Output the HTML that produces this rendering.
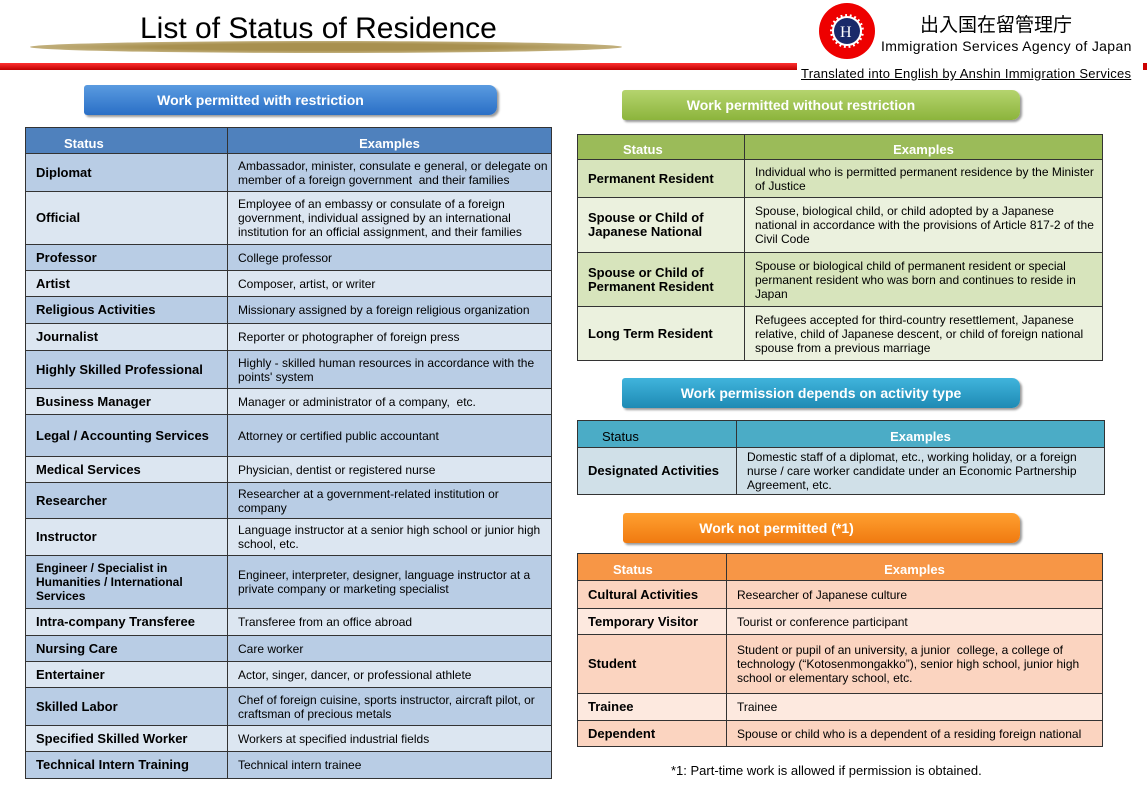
<!DOCTYPE html>
<html><head><meta charset="utf-8"><style>
*{margin:0;padding:0;box-sizing:border-box}
body{width:1147px;height:801px;background:#fff;position:relative;overflow:hidden;font-family:"Liberation Sans","Noto Sans CJK JP",sans-serif;color:#000}
.a{position:absolute}
table{position:absolute;border-collapse:collapse;font-size:12px}
td{border:1px solid #333;padding:0 6px 0 10px;line-height:14px}
td.s{font-weight:bold;font-size:13px}
th{border:1px solid #333;color:#fff;font-size:13px;font-weight:bold;padding-top:5px}
.ban{position:absolute;color:#fff;font-weight:bold;font-size:14px;border-radius:3px 8px 8px 3px;box-shadow:2px 2px 2px #999;display:flex;align-items:center;justify-content:center}
</style></head><body>
<div class="a" style="left:30px;top:41px;width:592px;height:12px;border-radius:50%;background:radial-gradient(ellipse,#a8904f 40%,#c9b98a 80%,#fff 100%)"></div>
<div class="a" style="left:140px;top:12px;font-size:30px">List of Status of Residence</div>
<div class="a" style="left:0;top:63px;width:797px;height:7px;background:linear-gradient(#ff3030,#c00000)"></div>
<div class="a" style="left:1143px;top:63px;width:4px;height:7px;background:#c00"></div>
<svg class="a" style="left:818px;top:2px" width="60" height="58"><circle cx="29" cy="29" r="28" fill="#e00" /><circle cx="29" cy="29" r="17" fill="#fff" stroke="#e00" stroke-width="4" stroke-dasharray="3 2"/><circle cx="29" cy="29" r="13" fill="#1a2a6a"/><text x="22" y="35" fill="#fff" font-size="16" font-family="Liberation Serif">H</text></svg>
<div class="a" style="left:920px;top:10px;font-size:19px;font-family:'Noto Sans CJK JP',sans-serif">出入国在留管理庁</div>
<div class="a" style="left:881px;top:38px;font-size:14px;letter-spacing:0.35px">Immigration Services Agency of Japan</div>
<div class="a" style="left:801px;top:66px;font-size:13px;text-decoration:underline;letter-spacing:0.25px">Translated into English by Anshin Immigration Services</div>

<div class="ban" style="left:84px;top:85px;width:413px;height:30px;background:linear-gradient(#5a9be0,#2a6fc6)"><span style="margin-left:-60px">Work permitted with restriction</span></div>
<div class="ban" style="left:622px;top:90px;width:398px;height:30px;background:linear-gradient(#b5d46e,#8cb43c)"><span style="margin-left:-40px">Work permitted without restriction</span></div>
<div class="ban" style="left:622px;top:378px;width:398px;height:30px;background:linear-gradient(#40b4dc,#1e8ab4)">Work permission depends on activity type</div>
<div class="ban" style="left:623px;top:513px;width:397px;height:30px;background:linear-gradient(#ffa030,#f07a10)"><span style="margin-left:-90px">Work not permitted (*1)</span></div>

<table style="left:25px;top:127px;width:527px">
<tr style="height:26px;background:#4f81bd"><th style="width:202px;text-align:left;padding-left:38px">Status</th><th>Examples</th></tr>
<tr style="height:38px;background:#b9cde5"><td class="s">Diplomat</td><td style="padding-right:0">Ambassador, minister, consulate e general, or delegate on member of a foreign government&nbsp; and their families</td></tr>
<tr style="height:53px;background:#dce6f1"><td class="s">Official</td><td>Employee of an embassy or consulate of a foreign government, individual assigned by an international institution for an official assignment, and their families</td></tr>
<tr style="height:26px;background:#b9cde5"><td class="s">Professor</td><td>College professor</td></tr>
<tr style="height:26px;background:#dce6f1"><td class="s">Artist</td><td>Composer, artist, or writer</td></tr>
<tr style="height:27px;background:#b9cde5"><td class="s">Religious Activities</td><td>Missionary assigned by a foreign religious organization</td></tr>
<tr style="height:27px;background:#dce6f1"><td class="s">Journalist</td><td>Reporter or photographer of foreign press</td></tr>
<tr style="height:38px;background:#b9cde5"><td class="s">Highly Skilled Professional</td><td>Highly - skilled human resources in accordance with the points' system</td></tr>
<tr style="height:26px;background:#dce6f1"><td class="s">Business Manager</td><td>Manager or administrator of a company,&nbsp; etc.</td></tr>
<tr style="height:42px;background:#b9cde5"><td class="s">Legal / Accounting Services</td><td>Attorney or certified public accountant</td></tr>
<tr style="height:26px;background:#dce6f1"><td class="s">Medical Services</td><td>Physician, dentist or registered nurse</td></tr>
<tr style="height:36px;background:#b9cde5"><td class="s">Researcher</td><td>Researcher at a government-related institution or company</td></tr>
<tr style="height:37px;background:#dce6f1"><td class="s">Instructor</td><td>Language instructor at a senior high school or junior high school, etc.</td></tr>
<tr style="height:53px;background:#b9cde5"><td class="s" style="font-size:12px">Engineer / Specialist in Humanities / International Services</td><td>Engineer, interpreter, designer, language instructor at a private company or marketing specialist</td></tr>
<tr style="height:27px;background:#dce6f1"><td class="s">Intra-company Transferee</td><td>Transferee from an office abroad</td></tr>
<tr style="height:26px;background:#b9cde5"><td class="s">Nursing Care</td><td>Care worker</td></tr>
<tr style="height:26px;background:#dce6f1"><td class="s">Entertainer</td><td>Actor, singer, dancer, or professional athlete</td></tr>
<tr style="height:38px;background:#b9cde5"><td class="s">Skilled Labor</td><td>Chef of foreign cuisine, sports instructor, aircraft pilot, or craftsman of precious metals</td></tr>
<tr style="height:26px;background:#dce6f1"><td class="s">Specified Skilled Worker</td><td>Workers at specified industrial fields</td></tr>
<tr style="height:27px;background:#b9cde5"><td class="s">Technical Intern Training</td><td>Technical intern trainee</td></tr>
</table>

<table style="left:577px;top:134px;width:526px">
<tr style="height:25px;background:#9bbb59"><th style="width:167px;text-align:left;padding-left:45px">Status</th><th>Examples</th></tr>
<tr style="height:38px;background:#d7e4bc"><td class="s">Permanent Resident</td><td style="padding-right:0">Individual who is permitted permanent residence by the Minister of Justice</td></tr>
<tr style="height:55px;background:#ebf1de"><td class="s">Spouse or Child of Japanese National</td><td>Spouse, biological child, or child adopted by a Japanese national in accordance with the provisions of Article 817-2 of the Civil Code</td></tr>
<tr style="height:54px;background:#d7e4bc"><td class="s">Spouse or Child of Permanent Resident</td><td>Spouse or biological child of permanent resident or special permanent resident who was born and continues to reside in Japan</td></tr>
<tr style="height:54px;background:#ebf1de"><td class="s">Long Term Resident</td><td>Refugees accepted for third-country resettlement, Japanese relative, child of Japanese descent, or child of foreign national spouse from a previous marriage</td></tr>
</table>

<table style="left:577px;top:420px;width:528px">
<tr style="height:27px;background:#4bacc6"><th style="width:159px;color:#000;font-weight:normal;text-align:left;padding-left:24px">Status</th><th>Examples</th></tr>
<tr style="height:47px;background:#d0e0e8"><td class="s">Designated Activities</td><td>Domestic staff of a diplomat, etc., working holiday, or a foreign nurse / care worker candidate under an Economic Partnership Agreement, etc.</td></tr>
</table>

<table style="left:577px;top:553px;width:526px">
<tr style="height:27px;background:#f79646"><th style="width:149px;text-align:left;padding-left:35px">Status</th><th>Examples</th></tr>
<tr style="height:28px;background:#fbd4c0"><td class="s">Cultural Activities</td><td>Researcher of Japanese culture</td></tr>
<tr style="height:26px;background:#fde9df"><td class="s">Temporary Visitor</td><td>Tourist or conference participant</td></tr>
<tr style="height:59px;background:#fbd4c0"><td class="s">Student</td><td>Student or pupil of an university, a junior&nbsp; college, a college of technology (“Kotosenmongakko”), senior high school, junior high school or elementary school, etc.</td></tr>
<tr style="height:27px;background:#fde9df"><td class="s">Trainee</td><td>Trainee</td></tr>
<tr style="height:26px;background:#fbd4c0"><td class="s">Dependent</td><td>Spouse or child who is a dependent of a residing foreign national</td></tr>
</table>
<div class="a" style="left:671px;top:763px;font-size:13px">*1: Part-time work is allowed if permission is obtained.</div>
</body></html>
